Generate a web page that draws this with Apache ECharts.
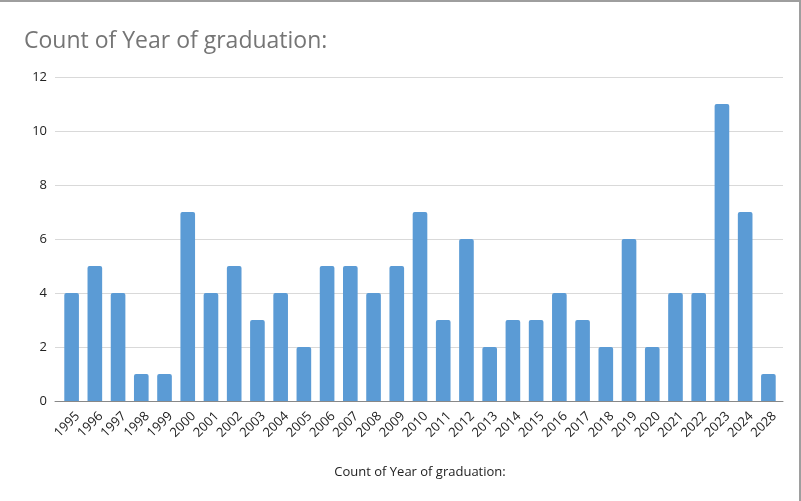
<!DOCTYPE html>
<html><head><meta charset="utf-8">
<script src="https://cdn.jsdelivr.net/npm/echarts@6/dist/echarts.min.js"></script>
<style>html,body{margin:0;padding:0;background:#fff}#c{width:801px;height:501px}</style>
</head><body><div id="c"></div>
<script>
const categories = ['1995','1996','1997','1998','1999','2000','2001','2002','2003','2004','2005','2006','2007','2008','2009','2010','2011','2012','2013','2014','2015','2016','2017','2018','2019','2020','2021','2022','2023','2024','2028'];
const counts = [4,5,4,1,1,7,4,5,3,4,2,5,5,4,5,7,3,6,2,3,3,4,3,2,6,2,4,4,11,7,1];
const yTicks = [0,2,4,6,8,10,12];
const titleText = 'Count of Year of graduation:';
const axisName = 'Count of Year of graduation:';
const FONT = '"Open Sans", Lato, sans-serif';

const chart = echarts.init(document.getElementById('c'), null, {renderer:'canvas'});
chart.setOption({
  animation:false,
  backgroundColor:'#fff',
  title:{text:titleText,left:19,top:25,textStyle:{fontFamily:FONT,fontSize:23,fontWeight:'normal',color:'#757575'}},
  grid:[
    {left:60,right:21,top:77,bottom:100},
    {left:55,right:18,top:77,bottom:100}
  ],
  xAxis:[
    {type:'category',data:categories,gridIndex:0,
     name:axisName,nameLocation:'middle',nameGap:65,
     nameTextStyle:{fontFamily:FONT,fontSize:13,color:'#222'},
     axisLine:{show:false},axisTick:{show:false},
     axisLabel:{rotate:45,interval:0,fontFamily:FONT,fontSize:13,color:'#222',margin:7,
       align:'right',verticalAlign:'top',lineHeight:17}},
    {type:'value',gridIndex:1,min:0,max:1,
     axisLine:{show:true,onZero:false,lineStyle:{color:'#888',width:1}},axisTick:{show:false},axisLabel:{show:false},splitLine:{show:false}}
  ],
  yAxis:[
    {type:'value',gridIndex:0,min:yTicks[0],max:yTicks[yTicks.length-1],interval:2,
     axisLine:{show:false},axisTick:{show:false},axisLabel:{show:false},splitLine:{show:false}},
    {type:'value',gridIndex:1,min:yTicks[0],max:yTicks[yTicks.length-1],interval:2,
     axisLine:{show:false},axisTick:{show:false},
     axisLabel:{fontFamily:FONT,fontSize:13,color:'#222',margin:8},
     splitLine:{lineStyle:{color:'#d9d9d9',width:1}}}
  ],
  series:[{type:'bar',xAxisIndex:0,yAxisIndex:0,data:counts,barWidth:'63%',z:3,
    itemStyle:{color:'#5b9bd5',borderRadius:[2,2,0,0]}}],
  graphic:[
    {type:'rect',left:0,top:0,shape:{width:801,height:2},style:{fill:'#9e9e9e'},silent:true},
    {type:'rect',left:799,top:0,shape:{width:2,height:501},style:{fill:'#9e9e9e'},silent:true}
  ]
});
</script></body></html>
